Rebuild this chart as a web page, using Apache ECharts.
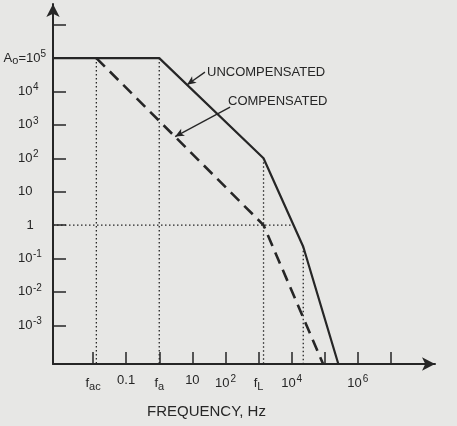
<!DOCTYPE html>
<html>
<head>
<meta charset="utf-8">
<script src="https://cdn.jsdelivr.net/npm/echarts@6/dist/echarts.min.js"></script>
<style>
  html, body { margin: 0; padding: 0; background: #e7e7e5; }
  #chart { width: 457px; height: 426px; }
</style>
</head>
<body>
<div id="chart"></div>
<script>
// all values are log10 of the real quantity (frequency in Hz, open-loop gain)
const uncompLogF = [-3.21, 0, 3.15, 4.35, 5.41];
const uncompLogA = [5, 5, 2, -0.65, -4.16];
const compLogF = [-1.9, 3.15, 4.95];
const compLogA = [5, 0, -4.16];

// dotted construction lines
const fac = -1.9, fa = 0, fL = 3.15, f2 = 4.35;
const unityEndF = 4.0;

// axis ranges
const xMin = -3.21, xMax = 8.33;
const yMin = -4.16, yMax = 6.62;

// ticks and labels
const xTicks = [-2, -1, 0, 1, 2, 3, 4, 5, 6, 7];
const xLabelValues = [-2, -1, 0, 1, 2, 3, 4, 6];
const xLabelBase = ['f', '0.1', 'f', '10', '10', 'f', '10', '10'];
const xLabelSub = ['ac', '', 'a', '', '', 'L', '', ''];
const xLabelSup = ['', '', '', '', '2', '', '4', '6'];

const yTicks = [6, 5, 4, 3, 2, 1, 0, -1, -2, -3];
const yLabelValues = [5, 4, 3, 2, 1, 0, -1, -2, -3];
const yLabelBase = ['10', '10', '10', '10', '10', '1', '10', '10', '10'];
const yLabelSup = ['5', '4', '3', '2', '', '', '-1', '-2', '-3'];

const ink = '#262626';
const font = 'Liberation Sans';

const chart = echarts.init(document.getElementById('chart'));

function seg(p, q) {
  return {
    type: 'line',
    data: [p, q],
    symbol: 'none',
    silent: true,
    lineStyle: { color: ink, width: 1.3, type: [1.5, 2.5] }
  };
}

const option = {
  backgroundColor: '#e7e7e5',
  animation: false,
  grid: { left: 53, right: 22, top: 4, bottom: 62 },
  xAxis: {
    type: 'value',
    min: xMin,
    max: xMax,
    splitLine: { show: false },
    axisLine: {
      onZero: false,
      symbol: ['none', 'arrow'],
      symbolSize: [10, 13],
      lineStyle: { color: ink, width: 2 }
    },
    axisTick: {
      inside: true,
      length: 12,
      customValues: xTicks,
      lineStyle: { color: ink, width: 1.5 }
    },
    axisLabel: {
      margin: 10,
      customValues: xLabelValues,
      formatter: function (v) {
        const i = xLabelValues.indexOf(Math.round(v));
        if (i < 0) return '';
        let s = '{b|' + xLabelBase[i] + '}';
        if (xLabelSub[i]) s += '{sub|' + xLabelSub[i] + '}';
        if (xLabelSup[i]) s += '{sup|' + xLabelSup[i] + '}';
        return s;
      },
      rich: {
        b: { fontFamily: font, fontSize: 13, color: ink },
        sub: { fontFamily: font, fontSize: 11, color: ink, padding: [7, 0, 0, 0] },
        sup: { fontFamily: font, fontSize: 10, color: ink, padding: [0, 0, 8, 1] }
      }
    }
  },
  yAxis: {
    type: 'value',
    min: yMin,
    max: yMax,
    splitLine: { show: false },
    axisLine: {
      onZero: false,
      symbol: ['none', 'arrow'],
      symbolSize: [10, 13],
      lineStyle: { color: ink, width: 2 }
    },
    axisTick: {
      inside: true,
      length: 13,
      customValues: yTicks,
      lineStyle: { color: ink, width: 1.5 }
    },
    axisLabel: {
      margin: 7,
      align: 'right',
      customValues: yLabelValues,
      formatter: function (v) {
        const i = yLabelValues.indexOf(Math.round(v));
        if (i < 0) return '';
        if (yLabelBase[i] === '1') return '{one|1}';
        if (v === 5) {
          return '{a|A}{asub|o}{a|=}{a|' + yLabelBase[i] + '}{as|' + yLabelSup[i] + '}';
        }
        return '{b|' + yLabelBase[i] + '}{s|' + (yLabelSup[i] || ' ') + '}';
      },
      rich: {
        a: { fontFamily: font, fontSize: 13, color: ink },
        asub: { fontFamily: font, fontSize: 11, color: ink, padding: [6, 0, 0, 0] },
        as: { fontFamily: font, fontSize: 10, color: ink, padding: [0, 0, 8, 0] },
        b: { fontFamily: font, fontSize: 13, color: ink, width: 15, align: 'left' },
        s: { fontFamily: font, fontSize: 10, color: ink, width: 13, align: 'left', padding: [0, 0, 8, 0] },
        one: { fontFamily: font, fontSize: 13, color: ink, width: 32, align: 'center' }
      }
    }
  },
  graphic: [
    {
      type: 'text', left: 207, top: 66,
      style: { text: 'UNCOMPENSATED', font: '13px "Liberation Sans"', fill: ink }
    },
    {
      type: 'text', left: 228, top: 95,
      style: { text: 'COMPENSATED', font: '13px "Liberation Sans"', fill: ink }
    },
    {
      type: 'text', left: 147, top: 404,
      style: { text: 'FREQUENCY, Hz', font: '15px "Liberation Sans"', fill: ink }
    }
  ],
  series: [
    seg([fac, 5], [fac, yMin]),
    seg([fa, 5], [fa, yMin]),
    seg([fL, 2], [fL, yMin]),
    seg([f2, -0.65], [f2, yMin]),
    seg([xMin, 0], [unityEndF, 0]),
    {
      name: 'UNCOMPENSATED',
      type: 'line',
      data: uncompLogF.map((f, i) => [f, uncompLogA[i]]),
      symbol: 'none',
      lineStyle: { color: ink, width: 2.2 },
      markLine: {
        silent: true,
        symbol: ['none', 'arrow'],
        symbolSize: [6, 9],
        label: { show: false },
        lineStyle: { color: ink, width: 1.3, type: 'solid' },
        data: [[{ coord: [1.38, 4.58] }, { coord: [0.84, 4.2] }]]
      }
    },
    {
      name: 'COMPENSATED',
      type: 'line',
      data: compLogF.map((f, i) => [f, compLogA[i]]),
      symbol: 'none',
      lineStyle: { color: ink, width: 2.6, type: [12, 7] },
      markLine: {
        silent: true,
        symbol: ['none', 'arrow'],
        symbolSize: [6, 9],
        label: { show: false },
        lineStyle: { color: ink, width: 1.3, type: 'solid' },
        data: [[{ coord: [2.14, 3.53] }, { coord: [0.48, 2.65] }]]
      }
    }
  ]
};

chart.setOption(option);
</script>
</body>
</html>
